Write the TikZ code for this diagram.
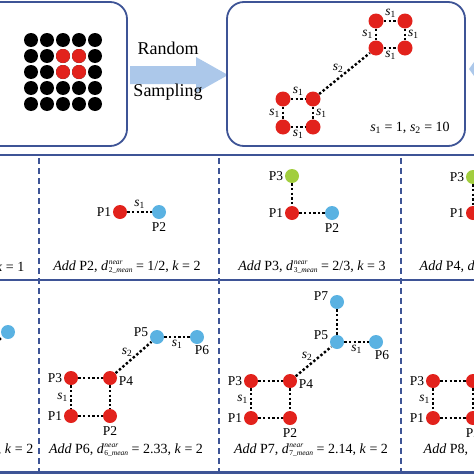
\documentclass[tikz,border=0pt]{standalone}
\usepackage{fontspec}
\setmainfont{Liberation Serif}

\definecolor{boxblue}{RGB}{62,84,150}
\definecolor{ptred}{RGB}{226,34,28}
\definecolor{ptblue}{RGB}{90,178,226}
\definecolor{ptgreen}{RGB}{162,206,62}
\definecolor{arrowblue}{RGB}{172,200,234}

\newcommand{\sv}[1]{\textit{s}\textsubscript{#1}}
\newcommand{\dnear}[1]{\textit{d}\kern0.5pt{\fontsize{7.5}{9}\selectfont\rlap{\raisebox{6pt}{\textit{near}}}\raisebox{-1.5pt}{#1\textit{\_mean}}}}

\begin{document}
\begin{tikzpicture}[x=1pt,y=-1pt,line width=0.8pt]
                \tikzstyle{pt} = [circle, inner sep=0pt, minimum size=14pt]
                \tikzstyle{rpt} = [pt, fill=ptred]
                \tikzstyle{bpt} = [pt, fill=ptblue]
                \tikzstyle{gpt} = [pt, fill=ptgreen]
                \tikzstyle{link} = [line width=2.4pt, dash pattern=on 2.4pt off 2.2pt]
                \tikzstyle{sep} = [boxblue, line width=1.8pt]
                \tikzstyle{cut} = [boxblue, line width=1.8pt, dash pattern=on 6pt off 4pt]
                \tikzstyle{lab} = [font=\fontsize{13.5}{15}\selectfont, inner sep=2pt]
                \tikzstyle{capt} = [font=\fontsize{14}{16}\selectfont]
                \tikzstyle{big} = [font=\fontsize{18}{20}\selectfont]
                \tikzstyle{every label} = [font=\fontsize{13.5}{15}\selectfont, inner sep=1pt]

                \useasboundingbox (0,0) rectangle (474,474);

                % Sampling arrow and boxes
                \fill[arrowblue] (130,66) -- (196,66) -- (196,57) -- (228,75) -- (196,93) -- (196,84) -- (130,84) -- cycle;
                \draw[sep, rounded corners=17pt] (-30,2) rectangle (127,146);
                \draw[sep, rounded corners=17pt] (227,2) rectangle (465,146);
                \fill[arrowblue] (469,69) -- (474,62) -- (474,76) -- cycle;
                \node[big] (rnd) at (168,48) {Random};
                \node[big] (smp) at (168,92) {Sampling};

                % Pixel grid
                \foreach \i in {0,...,4}
                    \foreach \j in {0,...,4}
                        \fill (31+16*\i,40+16*\j) circle (7pt);
                \foreach \i in {2,3}
                    \foreach \j in {1,2}
                        \fill[ptred] (31+16*\i,40+16*\j) circle (7pt);

                % Sampled points
                \node[rpt, minimum size=15pt] (a1) at (376,21) {};
                \node[rpt, minimum size=15pt] (a2) at (405,21) {};
                \node[rpt, minimum size=15pt] (a3) at (376,48) {};
                \node[rpt, minimum size=15pt] (a4) at (405,48) {};
                \node[rpt, minimum size=15pt] (b1) at (283,99) {};
                \node[rpt, minimum size=15pt] (b2) at (313,99) {};
                \node[rpt, minimum size=15pt] (b3) at (283,127) {};
                \node[rpt, minimum size=15pt] (b4) at (313,127) {};
                \draw[link] (a1) -- node[lab, above] {\sv1} (a2);
                \draw[link] (a1) -- node[lab, left] {\sv1} (a3);
                \draw[link] (a2) -- node[lab, right] {\sv1} (a4);
                \draw[link] (a3) -- node[lab, below] {\sv1} (a4);
                \draw[link] (b1) -- node[lab, above] {\sv1} (b2);
                \draw[link] (b1) -- node[lab, left] {\sv1} (b3);
                \draw[link] (b2) -- node[lab, right] {\sv1} (b4);
                \draw[link] (b3) -- node[lab, below] {\sv1} (b4);
                \draw[link] (b2) -- node[lab, above left, inner sep=0pt] {\sv2} (a3);
                \node[lab, font=\fontsize{14}{16}\selectfont] (sval) at (410,128) {\sv1 = 1, \sv2 = 10};

                % Panel grid
                \draw[sep] (0,155) -- (474,155);
                \draw[sep] (0,280) -- (474,280);
                \draw[sep, line width=4pt] (0,473) -- (474,473);
                \foreach \x in {39,219,401}
                    \draw[cut] (\x,158) -- (\x,471);

                % Row 1
                \node[capt, anchor=east] (m1cap) at (28,267) {\textit{k} = 1};

                \node[rpt, label=left:P1] (m2p1) at (120,212) {};
                \node[bpt, label={[label distance=2pt]below:P2}] (m2p2) at (159,212) {};
                \draw[link] (m2p1) -- node[lab, above] {\sv1} (m2p2);
                \node[capt] (m2cap) at (127,267) {\textit{Add}\ P2, \dnear{2} = 1/2, \textit{k} = 2};

                \node[gpt, label=left:P3] (m3p3) at (292,176) {};
                \node[rpt, label=left:P1] (m3p1) at (292,213) {};
                \node[bpt, label={[label distance=2pt]below:P2}] (m3p2) at (332,213) {};
                \draw[link] (m3p3) -- (m3p1);
                \draw[link] (m3p1) -- (m3p2);
                \node[capt] (m3cap) at (312,267) {\textit{Add}\ P3, \dnear{3} = 2/3, \textit{k} = 3};

                \node[gpt, label=left:P3] (m4p3) at (473,177) {};
                \node[rpt, label=left:P1] (m4p1) at (473,213) {};
                \draw[link] (m4p3) -- (m4p1);
                \node[capt, anchor=west] (m4cap) at (416,267) {\textit{Add}\ P4, \dnear{4}};

                % Row 2
                \node[bpt] (b1p5) at (8,332) {};
                \coordinate (b1p4) at (-39,373);
                \draw[link] (b1p4) -- (b1p5);
                \node[capt, anchor=east] (b1cap) at (37,450) {, \textit{k} = 2};

                \node[rpt, label=left:P3] (b2p3) at (71,378) {};
                \node[rpt, label={[yshift=-3pt]right:P4}] (b2p4) at (110,378) {};
                \node[rpt, label=left:P1] (b2p1) at (71,416) {};
                \node[rpt, label={[label distance=2pt]below:P2}] (b2p2) at (110,416) {};
                \node[bpt, label={[yshift=5pt]left:P5}] (b2p5) at (157,337) {};
                \node[bpt, label={[xshift=5pt]below:P6}] (b2p6) at (197,337) {};
                \draw[link] (b2p3) -- (b2p4);
                \draw[link] (b2p3) -- node[lab, left] {\sv1} (b2p1);
                \draw[link] (b2p4) -- (b2p2);
                \draw[link] (b2p1) -- (b2p2);
                \draw[link] (b2p4) -- node[lab, above left, inner sep=0pt] {\sv2} (b2p5);
                \draw[link] (b2p5) -- node[lab, below] {\sv1} (b2p6);
                \node[capt] (b2cap) at (126,450) {\textit{Add}\ P6, \dnear{6} = 2.33, \textit{k} = 2};

                \node[rpt, label=left:P3] (b3p3) at (251,381) {};
                \node[rpt, label={[yshift=-3pt]right:P4}] (b3p4) at (290,381) {};
                \node[rpt, label=left:P1] (b3p1) at (251,418) {};
                \node[rpt, label={[label distance=2pt]below:P2}] (b3p2) at (290,418) {};
                \node[bpt, label={[yshift=7pt]left:P5}] (b3p5) at (337,342) {};
                \node[bpt, label={[xshift=6pt]below:P6}] (b3p6) at (376,342) {};
                \node[bpt, label={[yshift=6pt]left:P7}] (b3p7) at (337,302) {};
                \draw[link] (b3p3) -- (b3p4);
                \draw[link] (b3p3) -- node[lab, left] {\sv1} (b3p1);
                \draw[link] (b3p4) -- (b3p2);
                \draw[link] (b3p1) -- (b3p2);
                \draw[link] (b3p4) -- node[lab, above left, inner sep=0pt] {\sv2} (b3p5);
                \draw[link] (b3p5) -- node[lab, below] {\sv1} (b3p6);
                \draw[link] (b3p7) -- (b3p5);
                \node[capt] (b3cap) at (311,450) {\textit{Add}\ P7, \dnear{7} = 2.14, \textit{k} = 2};

                \node[rpt, label=left:P3] (b4p3) at (433,381) {};
                \node[rpt, label=left:P1] (b4p1) at (433,418) {};
                \node[rpt] (b4p4) at (473,381) {};
                \node[rpt, label={[label distance=2pt]below:P2}] (b4p2) at (473,418) {};
                \draw[link] (b4p3) -- (b4p4);
                \draw[link] (b4p3) -- node[lab, left] {\sv1} (b4p1);
                \draw[link] (b4p4) -- (b4p2);
                \draw[link] (b4p1) -- (b4p2);
                \node[capt, anchor=west] (b4cap) at (420,450) {\textit{Add}\ P8,};
            \end{tikzpicture}
\end{document}
